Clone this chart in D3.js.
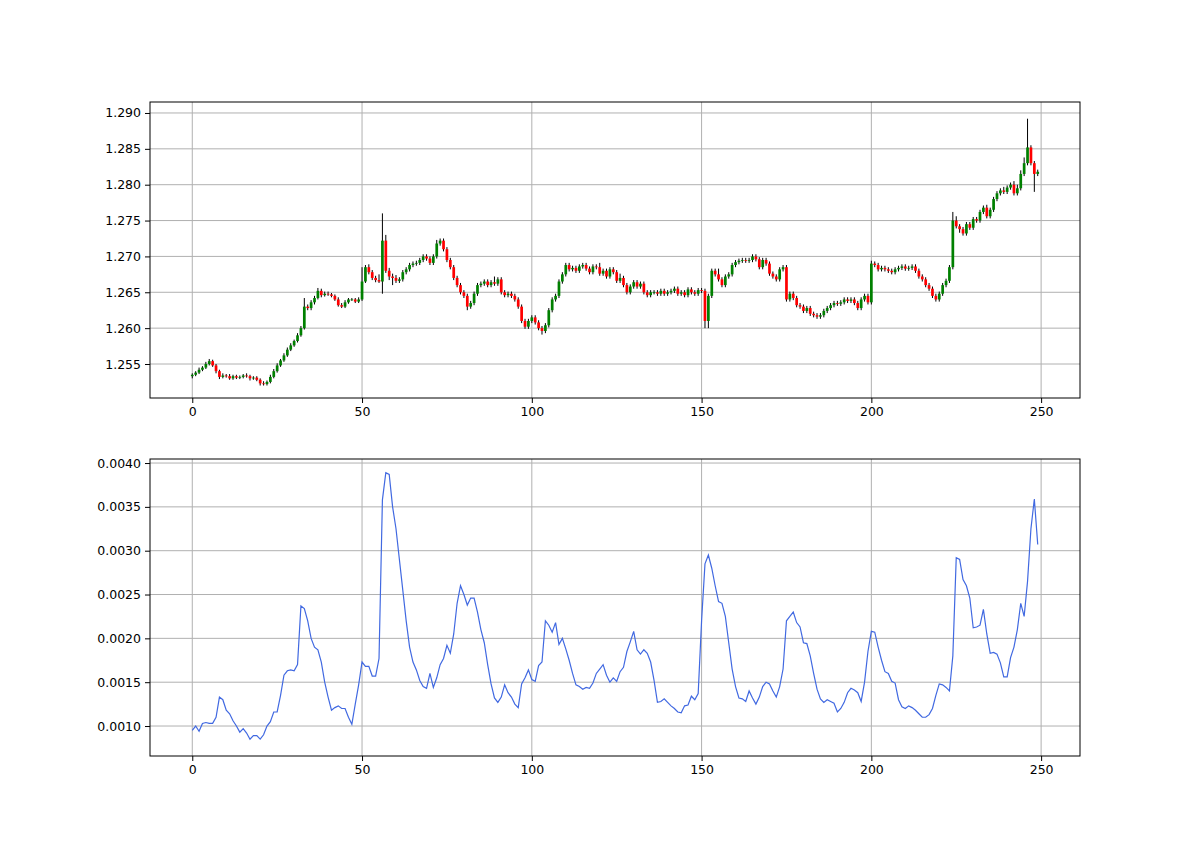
<!DOCTYPE html>
<html>
<head>
<meta charset="utf-8">
<script src="https://cdn.jsdelivr.net/npm/d3@7"></script>
<style>
  body { margin: 0; background: #fff; }
  svg text { font-family: "DejaVu Sans", sans-serif; fill: #000; }
</style>
</head>
<body>
<div id="chart"></div>
<script>
// Prices in pips above 1.2500 (1 pip = 0.0001)
var closes = [
  35,38,42,45,50,54,48,40,32,34, 33,30,33,31,32,34,33,30,31,28,
  23,22,25,32,40,48,55,62,70,76, 82,90,100,130,128,136,142,152,146,148,
  147,145,140,132,130,136,140,140,137,140, 165,185,178,170,167,165,222,180,172,170,
  166,168,178,182,188,190,191,195,200,197, 191,200,218,222,210,195,185,170,160,150,
  145,130,135,148,160,162,165,160,164,162, 168,150,146,148,145,140,130,110,102,110,
  115,108,100,96,104,125,140,145,165,175, 188,182,184,180,186,188,183,178,186,185,
  176,180,172,182,178,166,170,160,150,158, 164,158,162,150,146,150,150,148,152,148,
  150,152,155,148,150,146,154,150,148,153, 152,110,145,180,175,168,160,172,175,188,
  192,194,195,194,195,200,196,185,195,190, 176,172,168,182,185,140,148,142,132,130,
  124,128,120,118,116,118,124,128,132,135, 134,136,140,138,140,135,128,140,145,136,
  190,188,182,184,182,180,178,182,184,186, 183,184,186,180,172,168,160,155,145,140,
  148,160,166,185,250,242,238,232,245,240, 252,250,262,268,256,265,280,288,292,290,
  296,300,288,295,315,330,352,330,315,318
];
var opens0 = 33;
// wick extension above the body, in pips (rows of 30)
var wickUp = [
  2,2,3,2,3,3,2,2,2,3,  2,3,2,2,2,2,3,2,2,2,  2,3,2,3,3,3,2,3,3,3,
  2,3,3,12,3,3,3,4,3,3,  3,2,2,3,3,3,2,2,2,3,  20,3,4,3,3,8,38,8,4,4,
  4,3,3,3,3,3,3,3,3,3,  3,3,5,3,3,3,3,3,3,3,  3,3,3,3,3,3,3,3,3,8,
  3,3,3,3,3,3,3,3,3,3,  3,3,3,3,3,3,3,3,3,3,  3,3,3,3,3,3,3,3,3,3,
  6,3,3,3,3,3,6,3,3,3,  3,3,3,3,3,3,3,3,3,3,  3,3,3,3,3,3,3,3,3,3,
  3,3,3,3,3,8,3,3,3,3,  3,3,3,3,3,3,3,3,3,3,  3,3,3,3,3,3,3,3,3,3,
  3,3,3,3,3,3,3,3,3,3,  3,3,3,3,3,3,3,3,3,3,  4,3,3,3,3,3,3,3,3,3,
  3,3,3,3,3,3,3,3,3,3,  3,3,3,3,12,6,3,3,3,3,  3,3,3,3,4,3,3,3,3,5,
  3,3,5,5,5,8,40,3,3,3
];
// wick extension below the body, in pips (rows of 30)
var wickDn = [
  3,2,2,2,2,2,2,3,3,2,  2,2,2,2,2,2,2,3,2,2,  3,2,2,2,2,2,2,2,2,2,
  2,2,2,2,3,3,3,2,3,2,  2,2,2,2,2,2,2,2,2,2,  2,2,3,3,3,2,17,3,5,10,
  3,3,3,3,3,3,3,3,3,3,  3,3,3,3,3,3,3,3,3,3,  3,5,3,3,3,3,3,3,3,3,
  3,3,3,3,3,3,3,3,3,3,  3,3,3,5,3,3,3,3,3,3,  3,3,3,3,3,3,3,3,3,3,
  3,3,3,3,3,3,3,3,3,3,  3,3,3,3,3,3,3,3,3,3,  3,3,3,3,3,3,3,3,3,3,
  3,10,10,3,3,3,3,3,3,3,  3,3,3,3,3,3,3,3,3,3,  3,3,3,3,3,3,3,3,3,3,
  3,3,3,3,3,3,3,3,3,3,  3,3,3,3,3,3,3,3,3,3,  3,3,3,3,3,3,3,3,3,3,
  3,3,3,3,3,3,3,3,3,3,  3,3,3,3,3,3,5,3,3,3,  3,3,3,3,3,3,3,3,3,3,
  3,3,3,3,3,3,3,3,25,3
];
// indicator values, in units of 0.0001
var indicator = [
  9.5,10,9.4,10.3,10.4,10.3,10.3,11,13.3,13, 11.8,11.4,10.6,10,9.3,9.7,9.2,8.5,8.9,8.9,
  8.5,9,10,10.5,11.6,11.6,13.5,15.8,16.3,16.4, 16.3,17,23.7,23.4,22,20,19,18.7,17.3,15,
  13.3,11.8,12.1,12.3,12,12,11,10.2,12.5,14.7, 17.3,16.8,16.8,15.7,15.7,17.7,35.8,38.9,38.7,35,
  32.5,29,25.5,22,19,17.3,16.4,15.2,14.5,14.3, 16,14.4,15.5,17,17.7,19.2,18.3,20.5,24,26,
  25,23.8,24.6,24.6,23,21,19.5,17,14.8,13.2, 12.7,13.3,14.7,13.8,13.3,12.5,12.1,14.8,15.5,16.4,
  15.3,15.1,16.9,17.3,22,21.5,20.7,21.8,19.3,20, 18.8,17.5,16,14.7,14.5,14.2,14.4,14.3,14.9,16,
  16.5,17,15.8,15,15.5,15.1,16.2,16.7,18.5,19.6, 20.8,18.7,18.2,18.7,18.3,17.3,15.2,12.7,12.8,13.1,
  12.7,12.3,12,11.6,11.5,12.3,12.4,13.4,13,13.7, 22,28.5,29.5,28,26,24.2,24,22.5,19.5,16.5,
  14.5,13.2,13.1,12.8,14,13.2,12.5,13.3,14.5,15, 14.8,14,13.3,14.5,16.5,22,22.5,23,21.8,21.3,
  19.5,19.4,18,16,14.2,13.1,12.7,13,12.8,12.6, 11.6,12,12.7,13.8,14.3,14.1,13.8,12.8,15,18.5,
  20.8,20.7,19,17.5,16.2,16,15.1,14.9,13,12.2, 12,12.3,12.1,11.8,11.4,11,11,11.3,12,13.5,
  14.8,14.7,14.4,14,18,29.2,29,26.7,26,24.6, 21.2,21.3,21.5,23.3,20.5,18.3,18.4,18.2,17.2,15.6,
  15.6,17.8,19,21,24,22.5,26.5,32.5,35.9,30.7
];
var xTicks = [0, 50, 100, 150, 200, 250];
var priceTicks = [1.255, 1.260, 1.265, 1.270, 1.275, 1.280, 1.285, 1.290];
var indTicks = [0.0010, 0.0015, 0.0020, 0.0025, 0.0030, 0.0035, 0.0040];

var candles = closes.map(function (c, i) {
  var o = i === 0 ? opens0 : closes[i - 1];
  return {
    i: i,
    open: 1.25 + o / 1e4,
    close: 1.25 + c / 1e4,
    high: 1.25 + (Math.max(o, c) + wickUp[i]) / 1e4,
    low: 1.25 + (Math.min(o, c) - wickDn[i]) / 1e4
  };
});

var svg = d3.select("#chart").append("svg").attr("width", 1200).attr("height", 850);
var left = 150, right = 1080;
var x = d3.scaleLinear().domain([-12.45, 261.45]).range([left, right]);

function panel(top, bottom, yDomain, yTicks, fmt) {
  var y = d3.scaleLinear().domain(yDomain).range([bottom, top]);
  var g = svg.append("g");
  // grid
  g.selectAll(".gx").data(xTicks).enter().append("line")
    .attr("x1", function (d) { return x(d); }).attr("x2", function (d) { return x(d); })
    .attr("y1", top).attr("y2", bottom).attr("stroke", "#b0b0b0").attr("stroke-width", 1);
  g.selectAll(".gy").data(yTicks).enter().append("line")
    .attr("x1", left).attr("x2", right)
    .attr("y1", function (d) { return y(d); }).attr("y2", function (d) { return y(d); })
    .attr("stroke", "#b0b0b0").attr("stroke-width", 1);
  var ax = g.append("g").attr("transform", "translate(0," + bottom + ")")
    .call(d3.axisBottom(x).tickValues(xTicks).tickSize(5).tickPadding(4).tickFormat(d3.format("d")));
  var ay = g.append("g").attr("transform", "translate(" + left + ",0)")
    .call(d3.axisLeft(y).tickValues(yTicks).tickSize(5).tickPadding(4).tickFormat(d3.format(fmt)));
  [ax, ay].forEach(function (a) {
    a.select(".domain").remove();
    a.selectAll("text").style("font-family", "DejaVu Sans").style("font-size", "12.5px");
    a.selectAll("line").attr("stroke-width", 1);
  });
  return { g: g, y: y, top: top, bottom: bottom };
}

function frame(p) {
  p.g.append("rect").attr("x", left).attr("y", p.top)
    .attr("width", right - left).attr("height", p.bottom - p.top)
    .attr("fill", "none").attr("stroke", "#000").attr("stroke-width", 1);
}

// top: candlesticks
var p1 = panel(102, 398, [1.25026, 1.29153], priceTicks, ".3f");
var bw = x(0.8) - x(0);
var cg = p1.g.append("g");
cg.selectAll("line.wick").data(candles).enter().append("line")
  .attr("x1", function (d) { return x(d.i); }).attr("x2", function (d) { return x(d.i); })
  .attr("y1", function (d) { return p1.y(d.high); }).attr("y2", function (d) { return p1.y(d.low); })
  .attr("stroke", "#000").attr("stroke-width", 1);
cg.selectAll("rect").data(candles).enter().append("rect")
  .attr("x", function (d) { return x(d.i) - bw / 2; })
  .attr("width", bw)
  .attr("y", function (d) { return p1.y(Math.max(d.open, d.close)); })
  .attr("height", function (d) { return Math.max(0.8, Math.abs(p1.y(d.open) - p1.y(d.close))); })
  .attr("fill", function (d) { return d.close >= d.open ? "green" : "red"; });
frame(p1);

// bottom: indicator line
var p2 = panel(459, 756, [0.000658, 0.004046], indTicks, ".4f");
var line = d3.line().x(function (d, i) { return x(i); }).y(function (d) { return p2.y(d / 1e4); });
p2.g.append("path").datum(indicator).attr("d", line)
  .attr("fill", "none").attr("stroke", "#4169e1").attr("stroke-width", 1.2);
frame(p2);
</script>
</body>
</html>
